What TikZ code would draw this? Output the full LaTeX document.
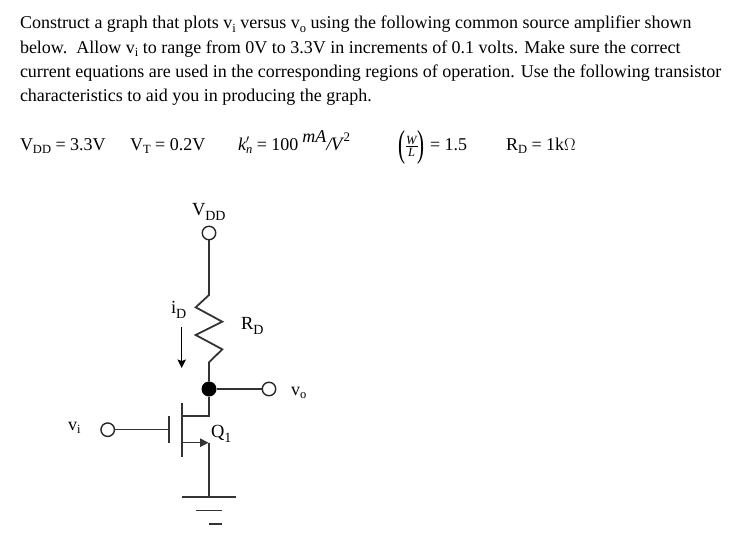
\documentclass[tikz,border=0pt]{standalone}
\usepackage{fontspec}
\setmainfont{Liberation Serif}
\usetikzlibrary{arrows.meta}
\newcommand{\lowsub}[1]{\raisebox{-0.2em}{\fontsize{12.5}{13}\selectfont #1}}
\newcommand{\lowsubb}[1]{\raisebox{-0.28em}{\fontsize{14}{14}\selectfont #1}}
\tikzset{
  txt/.style={anchor=base west,inner sep=0pt,outer sep=0pt,font=\fontsize{18}{20}\selectfont},
  lbl/.style={anchor=base west,inner sep=0pt,outer sep=0pt,font=\fontsize{18.5}{20}\selectfont},
  small/.style={anchor=base west,inner sep=0pt,outer sep=0pt,font=\fontsize{18}{20}\selectfont},
  frac/.style={anchor=base,inner sep=0pt,outer sep=0pt,font=\fontsize{12.5}{13}\selectfont\itshape},
  term/.style={circle,draw=black!85,line width=1.4pt,fill=white,minimum size=13.5pt,inner sep=0pt,outer sep=0pt},
  dot/.style={circle,fill=black,minimum size=15pt,inner sep=0pt,outer sep=0pt},
  wire/.style={draw=black!80,line width=1.8pt},
  thin wire/.style={draw=black!80,line width=1.4pt}
}
\begin{document}
\begin{tikzpicture}[x=1pt,y=-1pt]
\useasboundingbox (0,0) rectangle (752,547);
% text
\node[txt] (l1) at (20,28.7) {Construct a graph that plots v\lowsub{i} versus v\lowsub{o} using the following common source amplifier shown};
\node[txt] (l2) at (20,53) {below.\ \ Allow v\lowsub{i} to range from 0V to 3.3V in increments of 0.1 volts. Make sure the correct};
\node[txt] (l3) at (20,77) {current equations are used in the corresponding regions of operation. Use the following transistor};
\node[txt] (l4) at (20,101) {characteristics to aid you in producing the graph.};
% parameters
\node[small] (vdd) at (20,150) {V\lowsub{DD} = 3.3V};
\node[small] (vt) at (130,150) {V\lowsub{T} = 0.2V};
\node[small] (kn) at (238,150) {\textit{k}\hspace{-0.5pt}$'$\hspace{-3.5pt}\lowsub{\textit{n}} = 100\kern4pt\textit{\raisebox{0.4em}{mA}\kern0pt/\kern-0.5pt\raisebox{-0.05em}{\fontsize{19}{20}\selectfont V}}\kern1pt\raisebox{0.5em}{\fontsize{13}{13}\selectfont 2}};
\node[small] (wlo) at (398,150) {\raisebox{-6pt}{\resizebox{7pt}{26pt}{(}}};
\node[frac] (wlw) at (411.3,144.2) {W};
\node[frac] (wll) at (411.5,156.5) {L};
\node[small] (wlc) at (417,150) {\raisebox{-6pt}{\resizebox{7pt}{26pt}{)}}};
\node[small] (wlv) at (430,150) {= 1.5};
\node[small] (rd) at (506,150) {R\lowsub{D} = 1k$\Omega$};
\coordinate (ba) at (405.5,146.7);
\coordinate (bb) at (417.5,146.7);
\draw[line width=0.7pt] (ba) -- (bb);
% terminals
\node[term] (tvdd) at (209,233) {};
\node[term] (tvo) at (269,389) {};
\node[term] (tvi) at (107.7,429.7) {};
\node[dot] (j) at (209,389) {};
% coordinates
\coordinate (r0) at (209,295);
\coordinate (r1) at (195.7,307.3);
\coordinate (r2) at (222.3,321.7);
\coordinate (r3) at (195.7,335);
\coordinate (r4) at (222.3,349.3);
\coordinate (r5) at (209,362.3);
\coordinate (d) at (209,415.7);
\coordinate (dc) at (182.3,415.7);
\coordinate (ct) at (182.3,402.7);
\coordinate (cb) at (182.3,456.7);
\coordinate (gt) at (168.7,416);
\coordinate (gb) at (168.7,442.7);
\coordinate (gm) at (168.7,429.7);
\coordinate (sc) at (182.3,442.7);
\coordinate (s) at (208.5,442.7);
\coordinate (st) at (209,442.7);
\coordinate (g) at (209,497);
\coordinate (gl) at (182.3,497);
\coordinate (gr) at (236,497);
\coordinate (g2l) at (195.7,510.5);
\coordinate (g2r) at (222.3,510.5);
\coordinate (g3l) at (209,524);
\coordinate (g3r) at (222.3,524);
\coordinate (ia) at (181.7,327);
\coordinate (ib) at (181.7,368);
% wires
\draw[wire] (tvdd) -- (r0) -- (r1) -- (r2) -- (r3) -- (r4) -- (r5) -- (j);
\draw[wire] (j) -- (d) -- (dc);
\draw[thin wire] (j) -- (tvo);
\draw[wire] (ct) -- (cb);
\draw[wire] (gt) -- (gb);
\draw[thin wire] (tvi) -- (gm);
\draw[wire] (st) -- (g);
\draw[thin wire,-{Triangle[length=8.5pt,width=8.5pt]}] (sc) -- (s);
\draw[wire] (gl) -- (gr);
\draw[wire] (g2l) -- (g2r);
\draw[wire] (g3l) -- (g3r);
\draw[line width=1pt,-{Stealth[length=8.5pt,width=8.5pt,inset=1.5pt]}] (ia) -- (ib);
% labels
\node[lbl] (lvdd) at (192,215) {V\lowsubb{DD}};
\node[lbl] (lid) at (171,313) {i\lowsubb{D}};
\node[lbl] (lrd) at (241,329) {R\lowsubb{D}};
\node[lbl,font=\fontsize{18}{20}\selectfont] (lvo) at (291,395) {v\lowsub{o}};
\node[lbl,font=\fontsize{18}{20}\selectfont] (lvi) at (68,430) {v\lowsub{i}};
\node[lbl] (lq) at (211,437) {Q\lowsubb{1}};
\end{tikzpicture}
\end{document}
